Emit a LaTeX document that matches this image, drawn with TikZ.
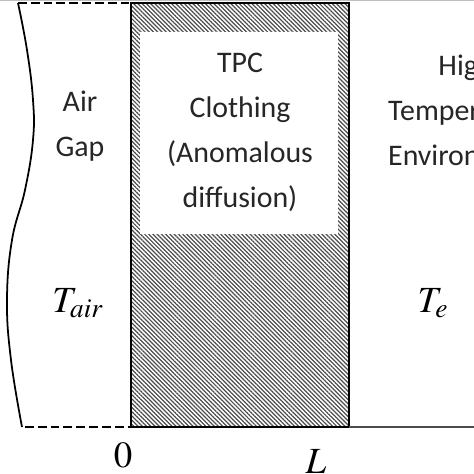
\documentclass[tikz,border=0pt]{standalone}
\usepackage{mathptmx}
\usepackage[no-math]{fontspec}
\setmainfont{Carlito}
\usetikzlibrary{patterns.meta}

\begin{document}
\begin{tikzpicture}[x=0.02cm,y=-0.02cm,
		txt/.style={font=\fontsize{17}{25.6}\selectfont, text=black!85, align=center},
		sym/.style={font=\fontsize{21}{25}\selectfont},
		hatch/.style={pattern={Lines[angle=-45,distance=1.7pt,line width=0.7pt]}, pattern color=black!70},
		wall/.style={dash pattern=on 5pt off 2.3pt, line width=1.1pt}]
		\useasboundingbox (0,0) rectangle (474,474);
		\clip (0,0) rectangle (474,474);
		\draw[black!25, line width=1pt] (0,0.5) -- (474,0.5);
		% clothing layer
		\fill[hatch] (131,3) rectangle (349,427);
		\fill[white] (140,32) rectangle (338,234);
		\draw[line width=1.2pt] (131,3) rectangle (349,427);
		% air gap
		\draw[wall] (18,3) -- (131,3);
		\draw[wall] (25,427) -- (131,427);
		\draw[line width=1pt] plot[smooth, tension=0.7] coordinates {(18,3) (27,50) (33,100) (33,140) (25,190) (12,240) (7,300) (11,360) (22,427)};
		% environment
		\draw[black!70, line width=0.8pt] (349,427) -- (474,427);
		\node[txt] (air) at (80,126) {Air\\Gap};
		\node[txt] (tpc) at (240,132) {TPC\\Clothing\\(Anomalous\\diffusion)};
		\node[txt] (env) at (466,110) {High\\Temperature\\Environment};
		\node[sym] (tair) at (78,303) {$T_{air}$};
		\node[sym] (te) at (433,303) {$T_e$};
		\node[sym] (x0) at (123,455) {$0$};
		\node[sym] (xL) at (316,462) {$L$};
	\end{tikzpicture}
\end{document}
